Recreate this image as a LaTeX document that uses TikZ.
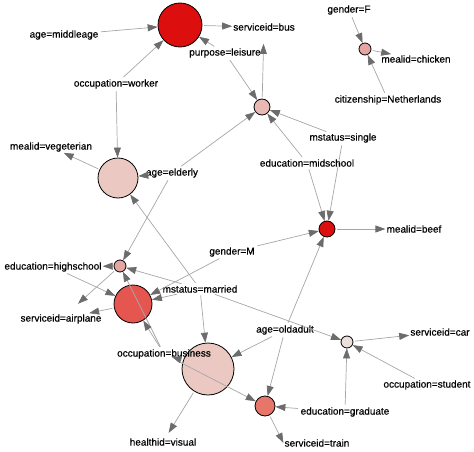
\documentclass[tikz,border=0pt]{standalone}
\usepackage{fontspec}
\setmainfont[FakeBold=0.5]{Liberation Sans}
\usetikzlibrary{arrows.meta}

\begin{document}
\begin{tikzpicture}[
  x=1pt, y=-1pt,
  font=\fontsize{10}{12}\selectfont,
  >={Triangle[length=10pt, width=7pt, color=gray!85!black]},
  rulec/.style={circle, draw, line width=0.8pt, inner sep=0pt},
  item/.style={inner sep=1pt},
  link/.style={->, draw=gray!70, line width=0.7pt, shorten <=1.5pt}
]

\definecolor{c1}{RGB}{221,14,14}
\definecolor{c2}{RGB}{230,86,80}
\definecolor{c3}{RGB}{230,118,106}
\definecolor{c4}{RGB}{229,166,161}
\definecolor{c5}{RGB}{232,184,179}
\definecolor{c6}{RGB}{235,200,194}
\definecolor{c7}{RGB}{236,224,220}

\useasboundingbox (0,0) rectangle (474,452);

% rules
\node[rulec, fill=c1, minimum size=44pt] (rule1) at (180,25) {};
\node[rulec, fill=c5, minimum size=16pt] (rule2) at (262,107) {};
\node[rulec, fill=c4, minimum size=12pt] (rule3) at (365,49) {};
\node[rulec, fill=c6, minimum size=40pt] (rule4) at (118,178) {};
\node[rulec, fill=c1, minimum size=16pt] (rule5) at (327,229) {};
\node[rulec, fill=c4, minimum size=12pt] (rule6) at (120,266) {};
\node[rulec, fill=c2, minimum size=38pt] (rule7) at (133,304) {};
\node[rulec, fill=c6, minimum size=52pt] (rule8) at (208,369) {};
\node[rulec, fill=c7, minimum size=12pt] (rule9) at (347,342) {};
\node[rulec, fill=c3, minimum size=20pt] (rule10) at (265,406) {};

% items
\node[item] (middleage) at (64,35) {age=middleage};
\node[item] (bus) at (264,27) {serviceid=bus};
\node[item] (leisure) at (225,53) {purpose=leisure};
\node[item] (worker) at (116,84) {occupation=worker};
\node[item] (genderF) at (349,10) {gender=F};
\node[item] (chicken) at (416,59) {mealid=chicken};
\node[item] (dutch) at (388,100) {citizenship=Netherlands};
\node[item] (single) at (343,138) {mstatus=single};
\node[item] (vegeterian) at (51,147) {mealid=vegeterian};
\node[item] (elderly) at (172,173) {age=elderly};
\node[item] (midschool) at (307,163) {education=midschool};
\node[item] (genderM) at (232,252) {gender=M};
\node[item] (beef) at (414,229) {mealid=beef};
\node[item] (highschool) at (53,267) {education=highschool};
\node[item] (married) at (200,289) {mstatus=married};
\node[item] (airplane) at (61,319) {serviceid=airplane};
\node[item] (oldadult) at (285,330) {age=oldadult};
\node[item] (car) at (440,332) {serviceid=car};
\node[item] (business) at (164,354) {occupation=business};
\node[item] (student) at (427,385) {occupation=student};
\node[item] (graduate) at (345,412) {education=graduate};
\node[item] (visual) at (163,442) {healthid=visual};
\node[item] (train) at (317,443) {serviceid=train};

% lhs -> rule
\foreach \a/\b in {middleage/rule1, worker/rule1, leisure/rule1,
    leisure/rule2, elderly/rule2, single/rule2, midschool/rule2,
    genderF/rule3, dutch/rule3,
    worker/rule4, elderly/rule4, married/rule4,
    midschool/rule5, single/rule5, genderM/rule5, oldadult/rule5,
    elderly/rule6, married/rule6, business/rule6,
    highschool/rule7, married/rule7, genderM/rule7, business/rule7,
    married/rule8, oldadult/rule8,
    married/rule9, student/rule9, graduate/rule9,
    business/rule10, oldadult/rule10, graduate/rule10}
  \draw[link] (\a) -- (\b);

% rule -> rhs
\foreach \a/\b in {rule1/bus, rule3/chicken, rule4/vegeterian, rule5/beef,
    rule6/highschool, rule7/airplane, rule9/car}
  \draw[link] (\a) -- (\b);
\draw[link, shorten >=12pt] (rule2) -- (bus);
\draw[link, shorten >=14pt] (rule6) -- (airplane);
\draw[link, shorten >=8pt] (rule8) -- (business.center);
\draw[link, shorten >=5pt] (rule8) -- (visual);
\draw[link] (rule10) -- (train.west);

\end{tikzpicture}
\end{document}
